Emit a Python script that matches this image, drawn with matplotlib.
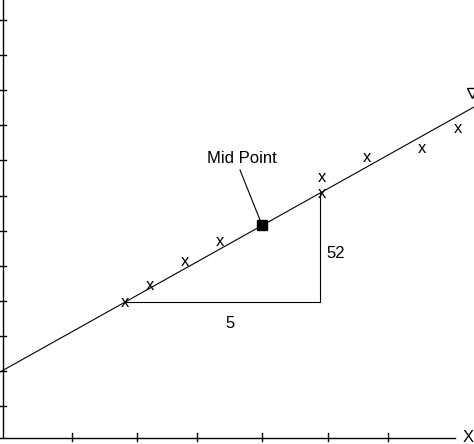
import matplotlib
matplotlib.use("Agg")
import matplotlib.pyplot as plt

# data in pixel-like units (y downward)
data_x = [125, 150, 185, 220, 322, 322, 367, 422, 458]
data_y = [302, 285, 261, 241, 177, 193, 157, 148, 128]
line_x = [0, 474]
line_y = [372, 107]
mid_x, mid_y = [262], [225]
xticks = [72, 137, 197, 262, 328, 388]
yticks = [20, 55, 90, 125, 160, 196, 231, 266, 301, 336, 371, 406]

fig = plt.figure(figsize=(4.74, 4.44), dpi=100)
ax = fig.add_axes([0, 0, 1, 1])
ax.set_xlim(0, 474); ax.set_ylim(444, 0); ax.axis("off")
ax.plot([3, 3], [0, 438], color="black", lw=1)
ax.plot([0, 455], [438, 438], color="black", lw=1)
for t in xticks:
    ax.plot([t, t], [433, 441], color="black", lw=1)
for t in yticks:
    ax.plot([0, 6], [t, t], color="black", lw=1)
ax.text(468, 437, "X", fontsize=12, ha="center", va="center", family="Liberation Sans")
ax.plot(line_x, line_y, color="black", lw=0.8)
for x, y in zip(data_x, data_y):
    ax.text(x, y, "x", fontsize=12, ha="center", va="center", family="Liberation Sans")
ax.plot(mid_x, mid_y, marker="s", color="black", ms=7, ls="none")
ax.plot([472], [93], marker="v", mfc="white", mec="black", ms=7, ls="none", clip_on=False)
ax.plot([125, 320, 320], [302, 302, 193], color="black", lw=0.8)
ax.text(230, 323, "5", fontsize=12, ha="center", va="center", family="Liberation Sans")
ax.text(336, 253, "52", fontsize=12, ha="center", va="center", family="Liberation Sans")
ax.text(242, 158, "Mid Point", fontsize=12, ha="center", va="center", family="Liberation Sans")
ax.plot([240, 262], [170, 225], color="black", lw=0.8)
fig.savefig("out.png", dpi=100)
